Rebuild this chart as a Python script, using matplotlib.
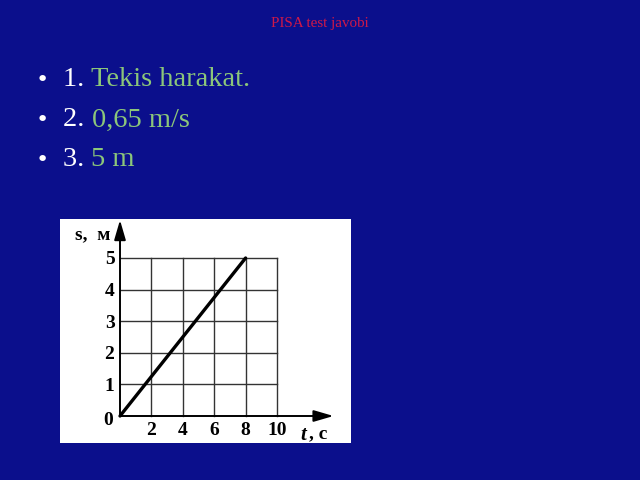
import matplotlib.pyplot as plt
from matplotlib.patches import Rectangle

# данные графика s(t)
t_values = [0, 8]
s_values = [0, 5]
x_ticks = [2, 4, 6, 8, 10]
y_ticks = [1, 2, 3, 4, 5]

title_text = 'PISA test javobi'
bullet_nums = ['1.', '2.', '3.']
bullet_answers = ['Tekis harakat.', '0,65 m/s', '5 m']

bg_color = '#0b0f8c'
green = '#8cc67a'
serif = ['Liberation Serif', 'DejaVu Serif']

fig = plt.figure(figsize=(6.4, 4.8), dpi=100)
fig.patch.set_facecolor(bg_color)

# заголовок слайда
fig.text(0.5, 1 - 24 / 480, title_text, color='#d01848', fontsize=10.8,
         family=serif, ha='center', va='center')

# пункты списка
for i, (num, ans) in enumerate(zip(bullet_nums, bullet_answers)):
    y = 1 - (80 + 40 * i) / 480
    fig.text(42 / 640, y, '\u2022', color='white', fontsize=16,
             family=['DejaVu Sans'], ha='center', va='center')
    t1 = fig.text(63 / 640, y, num + ' ', color='white', fontsize=20.5,
                  family=serif, va='center')
    fig.canvas.draw()
    bb = t1.get_window_extent()
    fig.text(bb.x1 / 640, y, ans, color=green, fontsize=20.5,
             family=serif, va='center')

# белая подложка под график
fig.patches.append(Rectangle((60 / 640, 1 - 443 / 480), 291 / 640, 224 / 480,
                             transform=fig.transFigure, facecolor='white',
                             edgecolor='none', zorder=-1))

# оси: 0..10 по t занимает 120..277 px, 0..5 по s занимает 416..258 px
ax = fig.add_axes([120 / 640, 1 - 416 / 480, 157 / 640, 158 / 480])
ax.set_zorder(2)
ax.set_xlim(0, 10)
ax.set_ylim(0, 5)
ax.patch.set_alpha(0)
for sp in ax.spines.values():
    sp.set_visible(False)

# сетка
for x in x_ticks:
    ax.plot([x, x], [0, 5], color='#333333', lw=1.0, clip_on=False)
for y in y_ticks:
    ax.plot([0, 10], [y, y], color='#333333', lw=1.0, clip_on=False)

# оси со стрелками
ax.annotate('', xy=(13.6, 0), xytext=(0, 0), annotation_clip=False,
            arrowprops=dict(arrowstyle='-|>,head_length=1.2,head_width=0.35',
                            color='black', lw=1.4, shrinkA=0, shrinkB=0))
ax.annotate('', xy=(0, 6.2), xytext=(0, 0), annotation_clip=False,
            arrowprops=dict(arrowstyle='-|>,head_length=1.2,head_width=0.35',
                            color='black', lw=1.4, shrinkA=0, shrinkB=0))

# график движения
ax.plot(t_values, s_values, color='black', lw=2.4, solid_capstyle='round',
        clip_on=False)

ax.set_xticks(x_ticks)
ax.set_yticks(y_ticks)
ax.set_xticklabels([str(v) for v in x_ticks], family=serif, fontsize=14,
                   fontweight='bold')
ax.set_yticklabels([str(v) for v in y_ticks], family=serif, fontsize=14,
                   fontweight='bold')
ax.tick_params(length=0, pad=4)
ax.text(-0.75, -0.13, '0', family=serif, fontsize=14, fontweight='bold',
        ha='center', va='center')

ax.text(11.5, -0.3, 't', family=serif, style='italic', fontsize=15,
        fontweight='bold', ha='left', va='top')
ax.text(12.05, -0.3, ', с', family=serif, fontsize=14, fontweight='bold',
        ha='left', va='top')
ax.text(-2.85, 5.75, 's,  м', family=serif, fontsize=14, fontweight='bold',
        ha='left', va='center')

plt.savefig('out.png', dpi=100, facecolor=fig.get_facecolor())
